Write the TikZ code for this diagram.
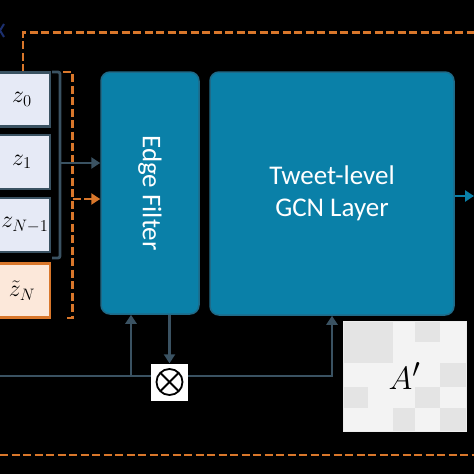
\documentclass[tikz,border=0pt]{standalone}
\usepackage{fontspec}
\setsansfont{Carlito}
\usetikzlibrary{arrows.meta}
\definecolor{slate}{HTML}{3A5262}
\definecolor{org}{HTML}{D9772B}
\definecolor{tealb}{HTML}{0A80A8}
\definecolor{tealdk}{HTML}{1F6A88}
\definecolor{zfill}{HTML}{E6EAF6}
\definecolor{nfill}{HTML}{FCE8DA}
\definecolor{navy}{HTML}{1C2F6E}
\definecolor{cellbg}{HTML}{F3F3F3}
\definecolor{cellgr}{HTML}{E4E4E4}
\newcommand{\zlab}[1]{\scalebox{1.15}{$#1$}}
\begin{document}
\begin{tikzpicture}[x=1pt,y=-1pt,
  zbox/.style={draw=slate,line width=2.5pt,fill=zfill,minimum width=56pt,minimum height=54pt,inner sep=0pt,font=\fontsize{20.74}{24}\selectfont},
  nbox/.style={zbox,draw=org,fill=nfill},
  block/.style={draw=tealdk,line width=1.5pt,fill=tealb,rounded corners=9pt,text=white,inner sep=0pt,font=\sffamily\fontsize{27}{32}\selectfont,align=center},
  conn/.style={draw=slate,line width=2.8pt},
  carrow/.style={conn,-{Triangle[length=9pt,width=11pt]}},
  odash/.style={draw=org,line width=2.8pt,dash pattern=on 8pt off 3.5pt},
  oarrow/.style={odash,-{Triangle[length=9pt,width=11pt]}},
  tarrow/.style={draw=tealb,line width=2.5pt,-{Triangle[length=9pt,width=11pt]}}
]
\fill[black] (0,0) rectangle (474,474);
\useasboundingbox (0,0) rectangle (474,474);

% cut-off mark at top left
\draw[navy,line width=2pt] (-4,24) -- (4,37) (4,24) -- (-4,37);

% dashed orange frame lines
\coordinate (tl) at (23,72);
\coordinate (tr) at (474,32.5);
\draw[odash] (tl) |- (tr);
\coordinate (bl) at (0,455);
\coordinate (br) at (474,455);
\draw[odash] (bl) -- (br);

% z boxes
\node[zbox] (z0) at (22,99.5) {\zlab{z_0}};
\node[zbox] (z1) at (22,162) {\zlab{z_1}};
\node[zbox] (zn1) at (22,225) {\hspace*{6pt}\zlab{z_{N-1}}};
\node[nbox] (zn) at (22,290.5) {\zlab{\tilde z_N}};

% blocks
\node[block,minimum width=98pt,minimum height=242pt] (ef) at (150,193) {\rotatebox{-90}{Edge Filter}};
\node[block,minimum width=244pt,minimum height=243pt] (gcn) at (332,193.5) {Tweet-level\\GCN Layer};

% brackets
\coordinate (sb1) at (52,72);
\coordinate (sb2) at (52,258);
\draw[conn,rounded corners=2pt] (sb1) -- (60,72) -- (60,258) -- (sb2);
\coordinate (ob1) at (63,72);
\coordinate (ob2) at (67,318);
\draw[odash] (ob1) -- (72.5,72) -- (72.5,318) -- (ob2);

% input arrows
\coordinate (in1) at (60,163);
\draw[carrow] (in1) -- (in1 -| ef.west);
\coordinate (in2) at (72.5,199);
\draw[oarrow] (in2) -- (in2 -| ef.west);

% output arrow
\coordinate (out) at (474,196);
\draw[tarrow] (out -| gcn.east) -- (out);

% otimes
\node[fill=white,minimum size=37pt,inner sep=0pt,
  path picture={\draw[black,line width=1.8pt] (path picture bounding box.center) circle (13pt);
    \draw[black,line width=1.8pt] ([shift={(-9.2pt,-9.2pt)}]path picture bounding box.center) -- ([shift={(9.2pt,9.2pt)}]path picture bounding box.center);
    \draw[black,line width=1.8pt] ([shift={(-9.2pt,9.2pt)}]path picture bounding box.center) -- ([shift={(9.2pt,-9.2pt)}]path picture bounding box.center);}
  ] (ot) at (169.5,382) {};

% bottom connectors
\coordinate (lin) at (0,376);
\draw[conn] (lin) -- (lin -| ot.west);
\draw[carrow] (lin -| ot.east) -| (gcn.south);
\coordinate (b1) at (131,376);
\draw[carrow] (b1) -- (b1 |- ef.south);
\draw[carrow] (ef.south -| ot.north) -- (ot.north);

% A' matrix
\fill[cellbg] (343,321) rectangle (466,431);
\fill[cellgr] (343,321) rectangle (393,363);
\fill[cellgr] (415,321) rectangle (440,342);
\fill[cellgr] (440,363) rectangle (466,387);
\fill[cellgr] (343,387) rectangle (368,408);
\fill[cellgr] (415,387) rectangle (440,408);
\fill[cellgr] (393,408) rectangle (415,431);
\fill[cellgr] (440,408) rectangle (466,431);
\node[draw=white!85!gray,line width=1pt,minimum width=123pt,minimum height=110pt,inner sep=0pt,font=\fontsize{24.88}{26}\selectfont] (A) at (404.5,376) {\scalebox{1.3}{$A'$}};
\end{tikzpicture}
\end{document}
